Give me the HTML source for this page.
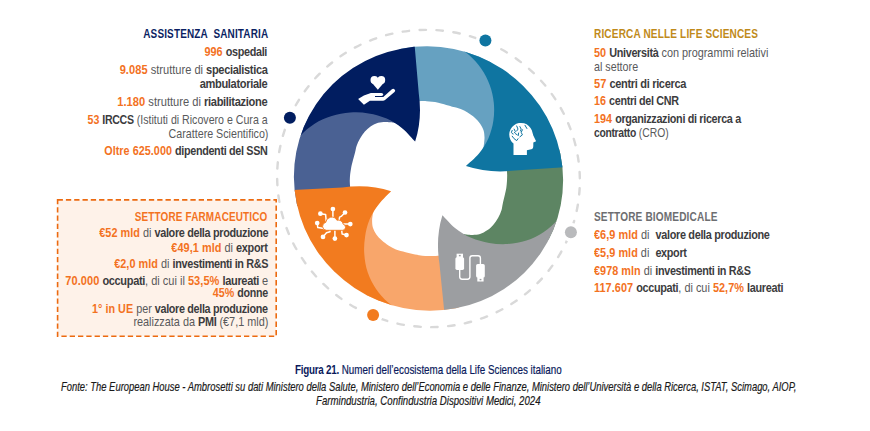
<!DOCTYPE html>
<html><head><meta charset="utf-8"><title>Figura 21</title>
<style>
html,body{margin:0;padding:0;background:#fff;}
body{width:870px;height:431px;position:relative;overflow:hidden;font-family:"Liberation Sans",sans-serif;}
.t{position:absolute;white-space:nowrap;line-height:1;margin:0;padding:0;}
b{letter-spacing:-0.3px;}
.l{transform-origin:0 0;}
.r{transform-origin:100% 0;}
svg{position:absolute;left:0;top:0;}
</style></head><body>
<svg width="870" height="431" viewBox="0 0 870 431">
<rect x="57.6" y="199.9" width="218.6" height="136.3" fill="#fef2e9" stroke="#ec6a10" stroke-width="1.6" stroke-dasharray="5.3 3"/>
<circle transform="matrix(1.009,0.0072,0.0072,0.991,428.5,178.5)" cx="0" cy="0" r="150" fill="none" stroke="#d9d9d9" stroke-width="2.4" stroke-dasharray="6.4 10.43" stroke-dashoffset="8.13" stroke-linecap="round"/>
<circle cx="485.4" cy="40.5" r="9.5" fill="#fff"/><circle cx="485.4" cy="40.5" r="6" fill="#0f75a1"/>
<circle cx="289.9" cy="117.8" r="9.5" fill="#fff"/><circle cx="289.9" cy="117.8" r="6" fill="#011d60"/>
<circle cx="373.1" cy="314.9" r="9.5" fill="#fff"/><circle cx="373.1" cy="314.9" r="6" fill="#f27b1f"/>
<circle cx="570.9" cy="232.3" r="9.5" fill="#fff"/><circle cx="570.9" cy="232.3" r="6" fill="#b9babc"/>
<defs><clipPath id="cp"><circle cx="0" cy="0" r="133.4"/></clipPath></defs>
<g transform="matrix(1.009,0.0072,0.0072,0.991,428.5,178.5)" clip-path="url(#cp)">
<path transform="rotate(-0.4)" d="M-28.6,-147.2L68.1,-133.7L63,-114L75.5,-80L79,-50L68,-27L53.8,-25.2C54.0,-26.0 54.5,-28.3 54.7,-29.8C55.0,-31.2 55.2,-32.8 55.3,-33.8C55.5,-34.8 55.5,-34.3 55.6,-35.6C55.7,-36.9 56.1,-39.3 56.1,-41.5C56.0,-43.6 56.0,-46.1 55.3,-48.4C54.6,-50.8 53.3,-53.3 51.8,-55.5C50.4,-57.7 48.7,-59.5 46.7,-61.4C44.7,-63.2 42.0,-65.1 39.7,-66.6C37.4,-68.1 35.2,-69.2 32.9,-70.1C30.6,-71.1 29.6,-71.1 26.0,-72.1C22.3,-73.2 15.2,-75.5 10.8,-76.5C6.4,-77.5 2.7,-77.8 -0.7,-78.0C-4.0,-78.2 -6.8,-78.0 -9.3,-77.7C-11.8,-77.4 -13.4,-77.1 -15.9,-76.5C-18.3,-75.9 -22.5,-74.6 -23.8,-74.2Z" fill="#66a1c1"/>
<path transform="rotate(88.6)" d="M-28.6,-147.2L68.1,-133.7L63,-114L75.5,-80L79,-50L68,-27L55.4,-25.4C55.6,-26.2 56.0,-28.6 56.3,-30.1C56.5,-31.5 56.7,-33.2 56.8,-34.2C57.0,-35.2 57.0,-34.8 57.1,-36.1C57.3,-37.4 57.7,-39.9 57.7,-42.1C57.6,-44.3 57.6,-46.9 56.9,-49.3C56.2,-51.7 54.8,-54.3 53.3,-56.5C51.8,-58.8 50.1,-60.7 48.0,-62.6C45.9,-64.5 43.2,-66.4 40.8,-67.8C38.4,-69.3 36.0,-70.4 33.6,-71.2C31.2,-72.1 30.1,-71.9 26.3,-72.9C22.5,-73.8 15.4,-75.9 10.9,-76.8C6.4,-77.6 2.7,-77.8 -0.7,-78.0C-4.1,-78.2 -6.8,-78.0 -9.3,-77.7C-11.8,-77.4 -13.4,-77.1 -15.9,-76.5C-18.3,-75.9 -22.5,-74.6 -23.8,-74.2Z" fill="#5d8563"/>
<path transform="rotate(179.3)" d="M-28.6,-147.2L68.1,-133.7L63,-114L75.5,-80L79,-50L68,-27L53.8,-25.2C54.0,-26.0 54.5,-28.3 54.7,-29.8C55.0,-31.2 55.1,-32.8 55.3,-33.8C55.5,-34.8 55.7,-34.4 55.9,-35.7C56.1,-37.0 56.6,-39.5 56.7,-41.7C56.7,-43.9 56.8,-46.5 56.2,-48.9C55.5,-51.3 54.2,-54.0 52.8,-56.2C51.4,-58.4 49.7,-60.3 47.6,-62.2C45.6,-64.1 43.0,-66.2 40.6,-67.7C38.3,-69.2 36.0,-70.4 33.7,-71.4C31.4,-72.4 30.4,-72.5 26.6,-73.5C22.8,-74.5 15.5,-76.5 10.9,-77.3C6.4,-78.1 2.7,-78.2 -0.7,-78.3C-4.1,-78.4 -6.8,-78.0 -9.3,-77.7C-11.8,-77.4 -13.4,-77.1 -15.9,-76.5C-18.3,-75.9 -22.5,-74.6 -23.8,-74.2Z" fill="#f8a66b"/>
<path transform="rotate(269.4)" d="M-28.6,-147.2L68.1,-133.7L63,-114L75.5,-80L79,-50L68,-27L55.0,-25.4C55.2,-26.1 55.6,-28.5 55.9,-30.0C56.1,-31.5 56.3,-33.1 56.5,-34.1C56.6,-35.1 56.6,-34.7 56.8,-36.0C56.9,-37.3 57.3,-39.7 57.2,-41.9C57.1,-44.1 57.1,-46.6 56.4,-49.0C55.6,-51.4 54.3,-54.0 52.8,-56.2C51.3,-58.4 49.6,-60.3 47.6,-62.2C45.5,-64.0 42.7,-65.9 40.3,-67.3C37.9,-68.7 35.6,-69.8 33.2,-70.6C30.9,-71.5 29.8,-71.4 26.1,-72.4C22.4,-73.4 15.3,-75.6 10.8,-76.5C6.3,-77.4 2.7,-77.8 -0.7,-78.0C-4.0,-78.2 -6.8,-78.0 -9.3,-77.7C-11.8,-77.4 -13.4,-77.1 -15.9,-76.5C-18.3,-75.9 -22.5,-74.6 -23.8,-74.2Z" fill="#4a6193"/>
<path transform="rotate(-0.4)" d="M37.3,-12.6C39.5,-14.7 46.6,-20.5 50.4,-25.2C54.1,-29.9 57.5,-35.2 60.0,-40.7C62.4,-46.2 64.2,-52.2 65.1,-58.2C66.1,-64.2 66.3,-70.4 65.8,-76.5C65.3,-82.5 64.0,-88.6 62.0,-94.3C60.0,-100.0 57.2,-105.7 53.9,-110.7C50.6,-115.7 46.5,-120.5 42.0,-124.6C37.5,-128.6 29.5,-133.3 27.1,-135.1L150,-160L149.5,-12.4L85.6,-8.1Q60,-5 37.3,-12.6Z" fill="#0f75a1"/>
<path transform="rotate(88.6)" d="M37.3,-12.6C39.5,-14.7 46.7,-20.4 50.6,-25.0C54.5,-29.6 58.0,-34.9 60.6,-40.4C63.2,-45.9 64.9,-52.0 66.0,-58.1C67.2,-64.1 67.7,-70.4 67.4,-76.6C67.1,-82.8 66.1,-89.2 64.3,-95.1C62.4,-101.1 59.6,-107.0 56.2,-112.2C52.8,-117.5 48.4,-122.4 43.7,-126.5C39.0,-130.6 30.6,-135.1 28.0,-136.9L150,-160L149.5,-12.4L85.6,-8.1Q60,-5 37.3,-12.6Z" fill="#9c9ea1"/>
<path transform="rotate(179.3)" d="M37.3,-12.6C39.4,-14.8 46.1,-20.9 49.7,-25.7C53.4,-30.4 56.8,-35.6 59.2,-41.0C61.6,-46.5 63.1,-52.5 64.0,-58.4C65.0,-64.3 65.5,-70.4 65.1,-76.4C64.8,-82.4 63.9,-88.6 62.1,-94.4C60.3,-100.1 57.6,-105.9 54.3,-111.0C51.0,-116.1 46.9,-120.9 42.4,-125.0C37.9,-129.1 29.8,-133.8 27.3,-135.6L150,-160L149.5,-11.6L85.6,-8.7Q60,-5 37.3,-12.6Z" fill="#f27b1f"/>
<path transform="rotate(269.4)" d="M37.3,-12.6C39.5,-14.7 46.7,-20.4 50.6,-25.0C54.5,-29.6 58.1,-34.9 60.6,-40.4C63.2,-45.9 64.9,-52.1 65.9,-58.1C67.0,-64.1 67.2,-70.4 66.8,-76.6C66.4,-82.7 65.3,-88.9 63.4,-94.8C61.6,-100.7 59.0,-106.7 55.7,-111.9C52.4,-117.2 48.2,-122.2 43.6,-126.3C39.0,-130.5 30.6,-135.1 28.0,-136.9L150,-160L149.5,-12.4L85.6,-8.1Q60,-5 37.3,-12.6Z" fill="#011d60"/>
</g>
<g id="ic-hand" fill="#fff">
<circle cx="374.4" cy="79.9" r="3.9"/><circle cx="381.3" cy="79.9" r="3.9"/>
<path d="M370.8,81.4L384.9,81.4L377.85,89.8Z"/>
<path d="M358.1,98.9L363.9,95.4L370.9,92.9L381.3,92.9Q383.3,93 383.3,94.4Q383.3,95.8 381.3,95.9L375,96.1L375,96.9L383.3,96.9L391.9,89.3A1.9,1.9 0 0 1 394.5,92.1L385,100.1Q384.2,100.7 383,100.7L369.9,100.7L363.9,104.7Z"/>
</g>
<g id="ic-head">
<path fill="#fff" d="M513.5,154.9L513.5,143.6A11.7,11.7 0 1 1 531.8,130.2L533.3,135.5L536.1,141.3L533.3,142.5L533.3,145.7Q533.3,148.9 531.2,149.2L526.9,150.2L526.9,154.9Z"/>
<g fill="none" stroke="#0f75a1" stroke-width="1" stroke-linecap="round">
<path d="M512.2,130.4L511.4,132.3L512.9,134.2"/><path d="M514.1,129.1L515.4,131.7L514.2,133"/>
<path d="M516.7,126L518,129.1L516.7,131"/><path d="M519.9,126.6L521.2,129.1L520.5,131"/>
<path d="M522.4,129.8L521.2,132.3L522.4,134.9L519.9,136.8"/><path d="M512.2,136.2L514.1,138.7L516.7,140.6L518,138.7"/>
<path d="M525,125.3L526.9,128.5"/><path d="M515.4,133.6L517.3,134.9"/><path d="M518.6,133L518.3,135.5"/>
</g></g>
<g id="ic-usb">
<rect x="456.6" y="253.7" width="6.4" height="5" fill="#fff"/><rect x="458.9" y="254.9" width="1.8" height="1.4" fill="#9c9ea1"/>
<rect x="455.4" y="257.2" width="8.7" height="12.7" rx="1.6" fill="#fff"/>
<path d="M459.7,269.5V276.8Q459.7,279.2 462.1,279.2H467.5Q469.9,279.2 469.9,276.8V258.1Q469.9,255.7 472.3,255.7H478Q480.4,255.7 480.4,258.1V264.5" fill="none" stroke="#fff" stroke-width="1.4"/>
<rect x="476.1" y="264.1" width="8.7" height="13.4" rx="1.6" fill="#fff"/>
<rect x="477.3" y="276.5" width="6.3" height="5" fill="#fff"/><rect x="479.6" y="278.9" width="1.8" height="1.4" fill="#9c9ea1"/>
</g>
<g id="ic-cloud">
<g fill="none" stroke="#fff" stroke-width="1.5" stroke-linecap="round" stroke-linejoin="round">
<path d="M332.9,209V219"/><path d="M320.4,213.7L325.6,214.4L326.2,221"/><path d="M345,212.5L341.2,216.4L339.6,217.2L339,221"/>
<path d="M317.2,223L317.8,227.6L324,228.6"/><path d="M350.3,224.1H343"/><path d="M323,236.9L326.5,232.8L330,231.7V228"/>
<path d="M334.9,238.6V228"/><path d="M346.5,235.1L342.1,234L341.5,228"/>
</g>
<g fill="#fff">
<circle cx="332.9" cy="209" r="2.35"/><circle cx="320.4" cy="213.7" r="2.35"/><circle cx="345" cy="212.5" r="2.35"/><circle cx="317.2" cy="223" r="2.35"/>
<circle cx="350.3" cy="224.1" r="2.35"/><circle cx="323" cy="236.9" r="2.35"/><circle cx="334.9" cy="238.6" r="2.35"/><circle cx="346.5" cy="235.1" r="2.35"/>
<path d="M326.4,230.3A4,4 0 0 1 325.7,222.4A6,6 0 0 1 336.9,220.2A5,5 0 0 1 343.2,224.2A3.1,3.1 0 0 1 342.6,230.3Z" stroke="#f27b1f" stroke-width="0.9"/>
</g></g>
</svg>
<div id="a0" class="t r" style="right:601.5px;top:26.90px;font-size:13.0px;transform:scaleX(0.7656)"><b style="color:#0b1f63;letter-spacing:0.2px;word-spacing:4px">ASSISTENZA SANITARIA</b></div>
<div id="a1" class="t r" style="right:602.6px;top:45.00px;font-size:13.0px;transform:scaleX(0.8347)"><b style="color:#f3721f;letter-spacing:0.05px">996</b> <b style="color:#3c3c3e;letter-spacing:-0.4px">ospedali</b></div>
<div id="a2" class="t r" style="right:602.6px;top:62.70px;font-size:13.0px;transform:scaleX(0.8523)"><b style="color:#f3721f;letter-spacing:0.05px">9.085</b> <span style="color:#58595b">strutture di</span> <b style="color:#3c3c3e;letter-spacing:-0.4px">specialistica</b></div>
<div id="a3" class="t r" style="right:602.6px;top:77.40px;font-size:13.0px;transform:scaleX(0.8532)"><b style="color:#3c3c3e;letter-spacing:-0.4px">ambulatoriale</b></div>
<div id="a4" class="t r" style="right:602.6px;top:95.00px;font-size:13.0px;transform:scaleX(0.8566)"><b style="color:#f3721f;letter-spacing:0.05px">1.180</b> <span style="color:#58595b">strutture di</span> <b style="color:#3c3c3e;letter-spacing:-0.4px">riabilitazione</b></div>
<div id="a5" class="t r" style="right:602.6px;top:112.70px;font-size:13.0px;transform:scaleX(0.8167)"><b style="color:#f3721f;letter-spacing:0.05px">53</b> <b style="color:#3c3c3e;letter-spacing:-0.4px">IRCCS</b> <span style="color:#58595b">(Istituti di Ricovero e Cura a</span></div>
<div id="a6" class="t r" style="right:602.0px;top:127.00px;font-size:13.0px;transform:scaleX(0.8223)"><span style="color:#58595b">Carattere Scientifico)</span></div>
<div id="a7" class="t r" style="right:602.6px;top:144.40px;font-size:13.0px;transform:scaleX(0.8310)"><b style="color:#f3721f;letter-spacing:0.05px">Oltre 625.000</b> <b style="color:#3c3c3e;letter-spacing:-0.4px">dipendenti del SSN</b></div>
<div id="b0" class="t l" style="left:594.3px;top:26.90px;font-size:13.0px;transform:scaleX(0.7731)"><b style="color:#c08a1a;letter-spacing:0.2px">RICERCA NELLE LIFE SCIENCES</b></div>
<div id="b1" class="t l" style="left:593.8px;top:45.80px;font-size:13.0px;transform:scaleX(0.8359)"><b style="color:#f3721f;letter-spacing:0.05px">50</b> <b style="color:#3c3c3e;letter-spacing:-0.4px">Università</b> <span style="color:#58595b">con programmi relativi</span></div>
<div id="b2" class="t l" style="left:593.8px;top:60.00px;font-size:13.0px;transform:scaleX(0.8245)"><span style="color:#58595b">al settore</span></div>
<div id="b3" class="t l" style="left:593.8px;top:76.80px;font-size:13.0px;transform:scaleX(0.8509)"><b style="color:#f3721f;letter-spacing:0.05px">57</b> <b style="color:#3c3c3e;letter-spacing:-0.4px">centri di ricerca</b></div>
<div id="b4" class="t l" style="left:594.3px;top:94.20px;font-size:13.0px;transform:scaleX(0.8294)"><b style="color:#f3721f;letter-spacing:0.05px">16</b> <b style="color:#3c3c3e;letter-spacing:-0.4px">centri del CNR</b></div>
<div id="b5" class="t l" style="left:594.3px;top:111.90px;font-size:13.0px;transform:scaleX(0.8322)"><b style="color:#f3721f;letter-spacing:0.05px">194</b> <b style="color:#3c3c3e;letter-spacing:-0.4px">organizzazioni di ricerca a</b></div>
<div id="b6" class="t l" style="left:593.8px;top:125.90px;font-size:13.0px;transform:scaleX(0.7947)"><b style="color:#3c3c3e;letter-spacing:-0.4px">contratto</b> <span style="color:#58595b">(CRO)</span></div>
<div id="c0" class="t l" style="left:593.9px;top:209.70px;font-size:13.0px;transform:scaleX(0.7744)"><b style="color:#6d6e71;letter-spacing:0.2px">SETTORE BIOMEDICALE</b></div>
<div id="c1" class="t l" style="left:593.9px;top:228.20px;font-size:13.0px;transform:scaleX(0.8383)"><b style="color:#f3721f;letter-spacing:0.05px">€6,9 mld</b> <span style="color:#58595b">di</span>&nbsp; <b style="color:#3c3c3e;letter-spacing:-0.4px">valore della produzione</b></div>
<div id="c2" class="t l" style="left:593.9px;top:245.90px;font-size:13.0px;transform:scaleX(0.8360)"><b style="color:#f3721f;letter-spacing:0.05px">€5,9 mld</b> <span style="color:#58595b">di</span>&nbsp; <b style="color:#3c3c3e;letter-spacing:-0.4px">export</b></div>
<div id="c3" class="t l" style="left:593.9px;top:263.60px;font-size:13.0px;transform:scaleX(0.8340)"><b style="color:#f3721f;letter-spacing:0.05px">€978 mln</b> <span style="color:#58595b">di</span> <b style="color:#3c3c3e;letter-spacing:-0.4px">investimenti in R&amp;S</b></div>
<div id="c4" class="t l" style="left:593.9px;top:281.30px;font-size:13.0px;transform:scaleX(0.8389)"><b style="color:#f3721f;letter-spacing:0.05px">117.607</b> <b style="color:#3c3c3e;letter-spacing:-0.4px">occupati</b><span style="color:#58595b">, di cui</span> <b style="color:#f3721f;letter-spacing:0.05px">52,7%</b> <b style="color:#3c3c3e;letter-spacing:-0.4px">laureati</b></div>
<div id="d0" class="t r" style="right:602.1px;top:209.90px;font-size:13.0px;transform:scaleX(0.7655)"><b style="color:#f3721f;letter-spacing:0.2px">SETTORE FARMACEUTICO</b></div>
<div id="d1" class="t r" style="right:602.1px;top:225.90px;font-size:13.0px;transform:scaleX(0.8356)"><b style="color:#f3721f;letter-spacing:0.05px">€52 mld</b> <span style="color:#58595b">di</span> <b style="color:#3c3c3e;letter-spacing:-0.4px">valore della produzione</b></div>
<div id="d2" class="t r" style="right:602.1px;top:241.30px;font-size:13.0px;transform:scaleX(0.8395)"><b style="color:#f3721f;letter-spacing:0.05px">€49,1 mld</b> <span style="color:#58595b">di</span> <b style="color:#3c3c3e;letter-spacing:-0.4px">export</b></div>
<div id="d3" class="t r" style="right:602.1px;top:256.80px;font-size:13.0px;transform:scaleX(0.8364)"><b style="color:#f3721f;letter-spacing:0.05px">€2,0 mld</b> <span style="color:#58595b">di</span> <b style="color:#3c3c3e;letter-spacing:-0.4px">investimenti in R&amp;S</b></div>
<div id="d4" class="t r" style="right:602.1px;top:273.90px;font-size:13.0px;transform:scaleX(0.8481)"><b style="color:#f3721f;letter-spacing:0.05px">70.000</b> <b style="color:#3c3c3e;letter-spacing:-0.4px">occupati</b><span style="color:#58595b">, di cui il</span> <b style="color:#f3721f;letter-spacing:0.05px">53,5%</b> <b style="color:#3c3c3e;letter-spacing:-0.4px">laureati</b> <span style="color:#58595b">e</span></div>
<div id="d5" class="t r" style="right:602.1px;top:285.80px;font-size:13.0px;transform:scaleX(0.8224)"><b style="color:#f3721f;letter-spacing:0.05px">45%</b> <b style="color:#3c3c3e;letter-spacing:-0.4px">donne</b></div>
<div id="d6" class="t r" style="right:602.1px;top:302.40px;font-size:13.0px;transform:scaleX(0.8302)"><b style="color:#f3721f;letter-spacing:0.05px">1° in UE</b> <span style="color:#58595b">per</span> <b style="color:#3c3c3e;letter-spacing:-0.4px">valore della produzione</b></div>
<div id="d7" class="t r" style="right:601.2px;top:315.10px;font-size:13.0px;transform:scaleX(0.8366)"><span style="color:#58595b">realizzata da</span> <b style="color:#3c3c3e;letter-spacing:-0.4px">PMI</b> <span style="color:#58595b">(€7,1 mld)</span></div>
<div id="e0" class="t l" style="left:294.7px;top:364.27px;font-size:12.2px;transform:scaleX(0.8057)"><b style="color:#0a1a5c">Figura 21.</b> <span style="color:#0a1a5c;-webkit-text-stroke:0.2px #0a1a5c">Numeri dell’ecosistema della Life Sciences italiano</span></div>
<div id="e1" class="t l" style="left:61.0px;top:381.17px;font-size:12.2px;transform:scaleX(0.7721)"><i style="color:#1a1a1a;-webkit-text-stroke:0.2px #1a1a1a">Fonte: The European House - Ambrosetti su dati Ministero della Salute, Ministero dell’Economia e delle Finanze, Ministero dell’Università e della Ricerca, ISTAT, Scimago, AIOP,</i></div>
<div id="e2" class="t l" style="left:315.7px;top:394.77px;font-size:12.2px;transform:scaleX(0.7912)"><i style="color:#1a1a1a;-webkit-text-stroke:0.2px #1a1a1a">Farmindustria, Confindustria Dispositivi Medici, 2024</i></div>
</body></html>
